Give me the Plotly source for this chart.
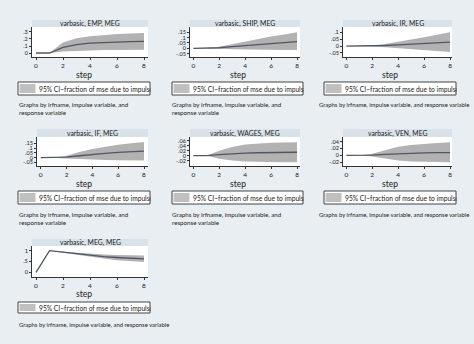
import plotly.graph_objects as go

W, H = 474, 344
steps = [0, 1, 2, 3, 4, 5, 6, 7, 8]
x_ticks = [0, 2, 4, 6, 8]
x_ticklabels = ["0", "2", "4", "6", "8"]

titles = ["varbasic, EMP, MEG", "varbasic, SHIP, MEG", "varbasic, IR, MEG",
          "varbasic, IF, MEG", "varbasic, WAGES, MEG", "varbasic, VEN, MEG",
          "varbasic, MEG, MEG"]
legend_label = "95% CI\u2212fraction of mse due to impulse"
note_two_line = "Graphs by irfname, impulse variable, and<br>response variable"
note_one_line = "Graphs by irfname, impulse variable, and response variable"
x_title = "step"

# fraction of mse (point estimate), lower and upper 95% CI
emp_fevd = [0, 0, 0.08, 0.12, 0.14, 0.15, 0.16, 0.162, 0.165]
emp_lo = [0, 0, 0.02, 0.03, 0.038, 0.042, 0.044, 0.045, 0.045]
emp_hi = [0, 0, 0.15, 0.21, 0.24, 0.26, 0.272, 0.28, 0.285]

ship_fevd = [0, 0, 0.005, 0.015, 0.025, 0.035, 0.045, 0.054, 0.062]
ship_lo = [0, 0, -0.004, -0.009, -0.012, -0.014, -0.015, -0.016, -0.016]
ship_hi = [0, 0, 0.015, 0.04, 0.065, 0.09, 0.11, 0.13, 0.15]

ir_fevd = [0, 0, 0.001, 0.004, 0.008, 0.013, 0.018, 0.023, 0.028]
ir_lo = [0, 0, -0.003, -0.008, -0.015, -0.022, -0.03, -0.037, -0.043]
ir_hi = [0, 0, 0.005, 0.015, 0.03, 0.048, 0.065, 0.083, 0.1]

if_fevd = [0, 0, 0.005, 0.02, 0.035, 0.045, 0.055, 0.062, 0.068]
if_lo = [0, 0, -0.008, -0.015, -0.02, -0.025, -0.027, -0.029, -0.03]
if_hi = [0, 0, 0.02, 0.06, 0.09, 0.115, 0.135, 0.15, 0.162]

wages_fevd = [0, 0, 0.004, 0.008, 0.01, 0.012, 0.013, 0.013, 0.014]
wages_lo = [0, 0, -0.012, -0.02, -0.024, -0.026, -0.027, -0.027, -0.027]
wages_hi = [0, 0, 0.02, 0.035, 0.045, 0.05, 0.053, 0.054, 0.055]

ven_fevd = [0, 0, 0.001, 0.003, 0.005, 0.006, 0.007, 0.008, 0.008]
ven_lo = [0, 0, -0.003, -0.01, -0.015, -0.018, -0.019, -0.02, -0.02]
ven_hi = [0, 0, 0.005, 0.015, 0.025, 0.03, 0.034, 0.036, 0.038]

meg_fevd = [0, 1, 0.93, 0.85, 0.78, 0.72, 0.68, 0.64, 0.62]
meg_lo = [0, 1, 0.9, 0.8, 0.71, 0.63, 0.56, 0.5, 0.47]
meg_hi = [0, 1, 0.95, 0.9, 0.86, 0.82, 0.8, 0.78, 0.77]

series = [(emp_fevd, emp_lo, emp_hi), (ship_fevd, ship_lo, ship_hi),
          (ir_fevd, ir_lo, ir_hi), (if_fevd, if_lo, if_hi),
          (wages_fevd, wages_lo, wages_hi), (ven_fevd, ven_lo, ven_hi),
          (meg_fevd, meg_lo, meg_hi)]

y_tickvals = [[0, 0.1, 0.2, 0.3],
              [-0.05, 0, 0.05, 0.1, 0.15],
              [-0.05, 0, 0.05, 0.1],
              [-0.05, 0, 0.05, 0.1, 0.15],
              [-0.02, 0, 0.02, 0.04, 0.06],
              [-0.02, 0, 0.02, 0.04],
              [0, 0.5, 1]]
y_ticklabels = [["0", ".1", ".2", ".3"],
                ["-.05", "0", ".05", ".1", ".15"],
                ["-.05", "0", ".05", ".1"],
                ["-.05", "0", ".05", ".1", ".15"],
                ["-.02", "0", ".02", ".04", ".06"],
                ["-.02", "0", ".02", ".04"],
                ["0", ".5", "1"]]

# layout geometry (pixels)
geom = [
    dict(x0=32, x1=148, ht=20, pt=27, pb=57, xr=[-0.296, 8.296], yr=[-0.057, 0.371],
         lx0=18, lx1=150, ly0=82, ly1=95, sy=75, nx=17, ny=103, two=True),
    dict(x0=190, x1=300, ht=20, pt=27, pb=57, xr=[-0.255, 8.23], yr=[-0.082, 0.2],
         lx0=172, lx1=303, ly0=82, ly1=95, sy=75, nx=170, ny=103, two=True),
    dict(x0=343, x1=452, ht=20, pt=27, pb=57, xr=[-0.255, 8.15], yr=[-0.08, 0.139],
         lx0=324, lx1=456, ly0=82, ly1=95, sy=75, nx=317, ny=103, two=False),
    dict(x0=37, x1=148, ht=129, pt=137, pb=166, xr=[-0.287, 8.31], yr=[-0.086, 0.214],
         lx0=18, lx1=150, ly0=191, ly1=204, sy=184, nx=17, ny=213, two=True),
    dict(x0=190, x1=300, ht=129, pt=137, pb=166, xr=[-0.255, 8.23], yr=[-0.042, 0.076],
         lx0=172, lx1=303, ly0=191, ly1=204, sy=184, nx=170, ny=213, two=True),
    dict(x0=343, x1=452, ht=129, pt=137, pb=166, xr=[-0.255, 8.15], yr=[-0.031, 0.0536],
         lx0=324, lx1=456, ly0=191, ly1=204, sy=184, nx=317, ny=213, two=False),
    dict(x0=32, x1=148, ht=239, pt=246, pb=277, xr=[-0.296, 8.296], yr=[-0.216, 1.21],
         lx0=18, lx1=150, ly0=302, ly1=313, sy=294, nx=17, ny=323, two=False),
]

BG = "#e8eef1"
HEADER = "#d8e2e8"
BAND = "#b2b2b2"
LINE = "#4e5863"
SWATCH = "#c0c0c0"
AX = "#333333"
FONT = "Lato"


def px(x):
    return x / W


def py(y):
    return 1 - y / H


fig = go.Figure()
shapes = []
annotations = []
layout = {}

for i, (g, (mid, lo, hi)) in enumerate(zip(geom, series)):
    n = i + 1
    xa = "x" if n == 1 else f"x{n}"
    ya = "y" if n == 1 else f"y{n}"
    fig.add_trace(go.Scatter(x=steps, y=lo, xaxis=xa, yaxis=ya, mode="lines",
                             line=dict(width=0, color=BAND), showlegend=False,
                             hoverinfo="skip"))
    fig.add_trace(go.Scatter(x=steps, y=hi, xaxis=xa, yaxis=ya, mode="lines",
                             line=dict(width=0, color=BAND), fill="tonexty",
                             fillcolor=BAND, showlegend=False, hoverinfo="skip"))
    fig.add_trace(go.Scatter(x=steps, y=mid, xaxis=xa, yaxis=ya, mode="lines",
                             line=dict(width=1.3, color=LINE), showlegend=False))

    xkey = "xaxis" if n == 1 else f"xaxis{n}"
    ykey = "yaxis" if n == 1 else f"yaxis{n}"
    layout[xkey] = dict(domain=[px(g["x0"]), px(g["x1"])], anchor=ya, range=g["xr"],
                        showline=True, linecolor=AX, linewidth=1, ticks="outside",
                        ticklen=2, tickcolor=AX, tickvals=x_ticks, ticktext=x_ticklabels,
                        showgrid=False, zeroline=False,
                        tickfont=dict(size=6.5, color="#222", family=FONT))
    layout[ykey] = dict(domain=[py(g["pb"]), py(g["pt"])], anchor=xa, range=g["yr"],
                        showline=True, linecolor=AX, linewidth=1, ticks="outside",
                        ticklen=2, tickcolor=AX, tickvals=y_tickvals[i],
                        ticktext=y_ticklabels[i], showgrid=False, zeroline=False,
                        tickfont=dict(size=5.6, color="#222", family=FONT))
    shapes.append(dict(type="rect", xref="paper", yref="paper", layer="below",
                       x0=px(g["x0"]), x1=px(g["x1"]), y0=py(g["pb"]), y1=py(g["pt"]),
                       fillcolor="white", line=dict(width=0)))
    shapes.append(dict(type="rect", xref="paper", yref="paper",
                       x0=px(g["x0"]), x1=px(g["x1"]), y0=py(g["pt"]), y1=py(g["ht"]),
                       fillcolor=HEADER, line=dict(width=0)))
    annotations.append(dict(xref="paper", yref="paper", x=px((g["x0"] + g["x1"]) / 2),
                            y=py((g["ht"] + g["pt"]) / 2), text=titles[i],
                            showarrow=False, xanchor="center", yanchor="middle",
                            font=dict(size=6.8, color="#222", family=FONT)))
    annotations.append(dict(xref="paper", yref="paper", x=px((g["lx0"] + g["lx1"]) / 2),
                            y=py(g["sy"]), text=x_title, showarrow=False,
                            xanchor="center", yanchor="middle",
                            font=dict(size=8.5, color="#222", family=FONT)))
    shapes.append(dict(type="rect", xref="paper", yref="paper",
                       x0=px(g["lx0"]), x1=px(g["lx1"]), y0=py(g["ly1"]), y1=py(g["ly0"]),
                       fillcolor="white", line=dict(width=1, color="#444")))
    shapes.append(dict(type="rect", xref="paper", yref="paper",
                       x0=px(g["lx0"] + 1.5), x1=px(g["lx0"] + 17.5),
                       y0=py(g["ly1"] - 2), y1=py(g["ly0"] + 2),
                       fillcolor=SWATCH, line=dict(width=0)))
    annotations.append(dict(xref="paper", yref="paper", x=px(g["lx0"] + 19.5),
                            y=py((g["ly0"] + g["ly1"]) / 2), text=legend_label,
                            showarrow=False, xanchor="left", yanchor="middle",
                            align="left", width=g["lx1"] - g["lx0"] - 20.5,
                            borderpad=0,
                            font=dict(size=6.7, color="#222", family=FONT)))
    annotations.append(dict(xref="paper", yref="paper", x=px(g["nx"]),
                            y=py(g["ny"] - 4), text=note_two_line if g["two"] else note_one_line,
                            showarrow=False, xanchor="left", yanchor="top", align="left",
                            font=dict(size=6.2 if g["two"] else 5.9, color="#222",
                                      family=FONT)))

fig.update_layout(width=W, height=H, margin=dict(l=0, r=0, t=0, b=0),
                  paper_bgcolor=BG, plot_bgcolor="rgba(0,0,0,0)",
                  shapes=shapes, annotations=annotations, showlegend=False,
                  **layout)
fig.write_html("out.html")
